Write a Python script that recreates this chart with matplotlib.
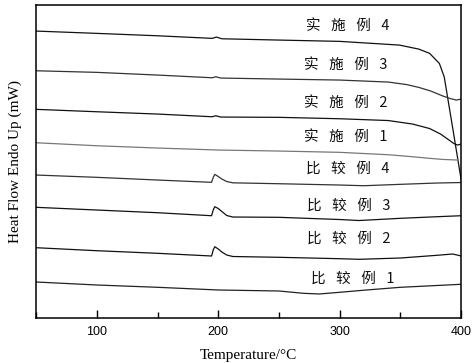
import matplotlib
matplotlib.use("Agg")
import matplotlib.pyplot as plt
from matplotlib.ticker import MultipleLocator

# DSC curves (arbitrary heat-flow units, stacked)
t_ex4 = [50, 100, 150, 195, 198.5, 203, 250, 300, 349, 365, 374, 382, 386, 393, 400]
y_ex4 = [287.0, 284.7, 282.3, 279.7, 281.0, 279.3, 278.0, 276.7, 273.0, 269.0, 264.7, 254.7, 241.3, 190.0, 138.0]

t_ex3 = [50, 100, 150, 195, 198, 202, 250, 300, 340, 355, 365, 375, 385, 391, 396, 400]
y_ex3 = [247.3, 245.7, 243.0, 240.3, 241.3, 240.0, 239.0, 238.0, 236.0, 233.5, 230.7, 227.0, 222.0, 219.5, 218.0, 219.0]

t_ex2 = [50, 100, 150, 195, 198, 202, 250, 300, 340, 360, 374, 383, 390, 394, 397, 400]
y_ex2 = [208.7, 206.3, 204.0, 201.3, 202.3, 201.0, 200.7, 199.3, 197.5, 194.0, 189.5, 184.0, 178.0, 174.5, 173.0, 174.0]

t_ex1 = [50, 100, 150, 200, 250, 300, 340, 360, 374, 385, 397]
y_ex1 = [175.3, 172.3, 170.0, 168.0, 167.0, 165.7, 163.3, 161.3, 159.7, 158.6, 158.0]

t_cp4 = [50, 100, 150, 194.5, 196, 197.2, 200, 203, 207, 212, 250, 300, 320, 350, 380, 400]
y_cp4 = [143.0, 140.7, 138.0, 135.7, 141.0, 143.7, 141.5, 139.0, 136.5, 135.2, 134.3, 133.0, 132.3, 133.7, 135.0, 135.5]

t_cp3 = [50, 100, 150, 194.5, 196, 197.2, 200, 203, 207, 212, 250, 300, 316, 350, 380, 400]
y_cp3 = [110.7, 108.0, 105.3, 102.3, 108.5, 111.3, 109.5, 106.5, 102.5, 101.0, 100.7, 98.5, 97.5, 99.7, 101.3, 102.3]

t_cp2 = [50, 100, 150, 194.5, 196, 197.2, 200, 203, 207, 212, 250, 300, 316, 350, 380, 393, 400]
y_cp2 = [70.3, 67.3, 64.7, 62.0, 68.5, 71.3, 69.0, 66.0, 63.0, 61.5, 60.7, 59.3, 58.7, 60.0, 62.7, 64.0, 62.0]

t_cp1 = [50, 100, 150, 200, 250, 270, 283, 300, 322, 350, 380, 400]
y_cp1 = [36.0, 33.0, 30.7, 28.0, 27.0, 24.7, 24.0, 25.7, 28.0, 30.7, 32.5, 33.7]

gap = "\u2002 "
labels = [gap.join(s) for s in ["实施例4", "实施例3", "实施例2", "实施例1",
                                "比较例4", "比较例3", "比较例2", "比较例1"]]
label_x = [272, 271, 271, 271, 272, 273, 273, 276]
label_y = [292, 253, 215, 181, 149, 112, 79, 39]

curves = [(t_ex4, y_ex4, "#111111"), (t_ex3, y_ex3, "#333333"),
          (t_ex2, y_ex2, "#111111"), (t_ex1, y_ex1, "#777777"),
          (t_cp4, y_cp4, "#333333"), (t_cp3, y_cp3, "#111111"),
          (t_cp2, y_cp2, "#111111"), (t_cp1, y_cp1, "#222222")]

fig = plt.figure(figsize=(4.74, 3.63), dpi=100)
ax = fig.add_axes([0.076, 0.124, 0.897, 0.862])

for t, y, c in curves:
    ax.plot(t, y, color=c, lw=0.9)

for s, x, y in zip(labels, label_x, label_y):
    ax.text(x, y, s, fontsize=10.5, family=["Noto Sans CJK SC", "DejaVu Sans"],
            ha="left", va="center", color="#111111")

ax.set_xlim(50, 400)
ax.set_ylim(0, 313)
ax.set_yticks([])
ax.xaxis.set_major_locator(MultipleLocator(100))
ax.xaxis.set_minor_locator(MultipleLocator(50))
ax.tick_params(axis="x", which="major", direction="in", length=6, width=1,
               labelsize=9, pad=6)
ax.tick_params(axis="x", which="minor", direction="in", length=4, width=1)
for lab in ax.get_xticklabels():
    lab.set_family("Liberation Sans")
for sp in ax.spines.values():
    sp.set_linewidth(1.1)

ax.set_xlabel("Temperature/°C", family="Liberation Serif", fontsize=11, labelpad=8)
ax.set_ylabel("Heat Flow Endo Up (mW)", family="Liberation Serif", fontsize=11, labelpad=10)

fig.savefig("out.png", dpi=100)
